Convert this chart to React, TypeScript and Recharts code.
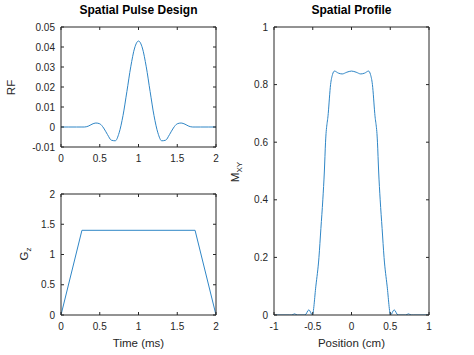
import React from 'react';
import { LineChart, Line, XAxis, YAxis } from 'recharts';

// RF pulse (windowed sinc)
const rfTime = [0, 0.1, 0.2, 0.27, 0.3, 0.35, 0.4, 0.45, 0.5, 0.55, 0.6, 0.65, 0.7, 0.75, 0.8, 0.85, 0.9, 0.95, 1,
  1.05, 1.1, 1.15, 1.2, 1.25, 1.3, 1.35, 1.4, 1.45, 1.5, 1.55, 1.6, 1.65, 1.7, 1.73, 1.8, 1.9, 2];
const rfValue = [0, 0, 0, 0, 0.0000, 0.0004, 0.0014, 0.0020, 0.0016, -0.0005, -0.0038, -0.0066, -0.0069, -0.0029, 0.0057, 0.0177, 0.0301, 0.0395, 0.0430,
  0.0395, 0.0301, 0.0177, 0.0057, -0.0029, -0.0069, -0.0066, -0.0038, -0.0005, 0.0016, 0.0020, 0.0014, 0.0004, 0.0000, 0, 0, 0, 0];

// slice-select gradient
const gzTime = [0, 0.27, 1.73, 2];
const gzValue = [0, 1.4, 1.4, 0];

// spatial profile |Mxy|
const position = [-1, -0.8, -0.77, -0.735, -0.7, -0.6, -0.55, -0.505, -0.46, -0.42, -0.395, -0.37, -0.35, -0.335, -0.3, -0.27, -0.245, -0.22, -0.17, -0.12, -0.06, 0,
  0.06, 0.12, 0.17, 0.22, 0.245, 0.27, 0.3, 0.335, 0.35, 0.37, 0.395, 0.42, 0.46, 0.505, 0.55, 0.6, 0.7, 0.735, 0.77, 0.8, 1];
const mxy = [0, 0, 0, 0.004, 0, 0, 0.018, 0, 0.1, 0.2, 0.3, 0.4, 0.5, 0.6, 0.7, 0.8, 0.835, 0.847, 0.84, 0.837, 0.843, 0.847,
  0.843, 0.837, 0.84, 0.847, 0.835, 0.8, 0.7, 0.6, 0.5, 0.4, 0.3, 0.2, 0.1, 0, 0.018, 0, 0, 0.004, 0, 0, 0];

const timeTicks = [0, 0.5, 1, 1.5, 2];
const rfTicks = [-0.01, 0, 0.01, 0.02, 0.03, 0.04, 0.05];
const gzTicks = [0, 0.5, 1, 1.5, 2];
const posTicks = [-1, -0.5, 0, 0.5, 1];
const mxyTicks = [0, 0.2, 0.4, 0.6, 0.8, 1];

const rfData = rfTime.map((t, i) => ({ t, v: rfValue[i] }));
const gzData = gzTime.map((t, i) => ({ t, v: gzValue[i] }));
const profData = position.map((t, i) => ({ t, v: mxy[i] }));

const AX = '#262626';
const LINE = '#2f86c6';
const FONT = '"Liberation Sans", Arial, sans-serif';
const TICK_LEN = 3;

// matlab-style ticks: short marks pointing into the box, labels outside
const BottomTick = (props: any) => {
  const { x, y, payload } = props;
  return (
    <g>
      <line x1={x} x2={x} y1={y} y2={y - TICK_LEN} stroke={AX} />
      <text x={x} y={y + 14.5} textAnchor="middle" fontSize={10} fill={AX} fontFamily={FONT}>{String(payload.value)}</text>
    </g>
  );
};
const LeftTick = (props: any) => {
  const { x, y, payload } = props;
  return (
    <g>
      <line x1={x} x2={x + TICK_LEN} y1={y} y2={y} stroke={AX} />
      <text x={x - 6} y={y + 3.5} textAnchor="end" fontSize={10} fill={AX} fontFamily={FONT}>{String(payload.value)}</text>
    </g>
  );
};
const TopTick = (props: any) => {
  const { x, y } = props;
  return <line x1={x} x2={x} y1={y} y2={y + TICK_LEN} stroke={AX} />;
};
const RightTick = (props: any) => {
  const { x, y } = props;
  return <line x1={x} x2={x - TICK_LEN} y1={y} y2={y} stroke={AX} />;
};

type PanelProps = {
  data: { t: number; v: number }[];
  width: number;
  height: number;
  margin: { top: number; right: number; left: number; bottom: number };
  yWidth: number;
  xHeight: number;
  xDomain: [number, number];
  xTicks: number[];
  yDomain: [number, number];
  yTicks: number[];
  curve: 'monotone' | 'linear';
};

function Panel(p: PanelProps) {
  return (
    <LineChart width={p.width} height={p.height} data={p.data} margin={p.margin}>
      <XAxis xAxisId="b" dataKey="t" type="number" domain={p.xDomain} ticks={p.xTicks} allowDataOverflow
        height={p.xHeight} tickSize={0} tickMargin={0} tickLine={false} stroke={AX} tick={<BottomTick />} interval={0} />
      <XAxis xAxisId="t" dataKey="t" type="number" orientation="top" domain={p.xDomain} ticks={p.xTicks} allowDataOverflow
        height={1} tickSize={0} tickMargin={0} tickLine={false} stroke={AX} tick={<TopTick />} interval={0} />
      <YAxis yAxisId="l" type="number" domain={p.yDomain} ticks={p.yTicks} allowDataOverflow
        width={p.yWidth} tickSize={0} tickMargin={0} tickLine={false} stroke={AX} tick={<LeftTick />} interval={0} />
      <YAxis yAxisId="r" type="number" orientation="right" domain={p.yDomain} ticks={p.yTicks} allowDataOverflow
        width={1} tickSize={0} tickMargin={0} tickLine={false} stroke={AX} tick={<RightTick />} interval={0} />
      <Line xAxisId="b" yAxisId="l" type={p.curve} dataKey="v" stroke={LINE} strokeWidth={1}
        dot={false} isAnimationActive={false} />
    </LineChart>
  );
}

export default function App() {
  return (
    <div style={{ position: 'absolute', left: 0, top: 0, width: 474, height: 355, background: '#fff', fontFamily: FONT }}>
      <div style={{ position: 'absolute', left: 0, top: 0 }}>
        <Panel data={rfData} width={237} height={175} margin={{ top: 26, right: 20, left: 0, bottom: 0 }}
          yWidth={61} xHeight={28} xDomain={[0, 2]} xTicks={timeTicks} yDomain={[-0.01, 0.05]} yTicks={rfTicks} curve="monotone" />
      </div>
      <div style={{ position: 'absolute', left: 0, top: 175 }}>
        <Panel data={gzData} width={237} height={180} margin={{ top: 18, right: 20, left: 0, bottom: 0 }}
          yWidth={61} xHeight={40} xDomain={[0, 2]} xTicks={timeTicks} yDomain={[0, 2]} yTicks={gzTicks} curve="linear" />
      </div>
      <div style={{ position: 'absolute', left: 237, top: 0 }}>
        <Panel data={profData} width={237} height={355} margin={{ top: 26, right: 44, left: 0, bottom: 0 }}
          yWidth={37} xHeight={40} xDomain={[-1, 1]} xTicks={posTicks} yDomain={[0, 1]} yTicks={mxyTicks} curve="monotone" />
      </div>
      <svg width={474} height={355} style={{ position: 'absolute', left: 0, top: 0, pointerEvents: 'none' }}
        fontFamily={FONT} fill="#000">
        <text x={138.5} y={14} textAnchor="middle" fontSize={12} fontWeight="bold">Spatial Pulse Design</text>
        <text x={351.5} y={14} textAnchor="middle" fontSize={12} fontWeight="bold">Spatial Profile</text>
        <text x={138.5} y={347} textAnchor="middle" fontSize={11.5} fill={AX}>Time (ms)</text>
        <text x={351.5} y={347} textAnchor="middle" fontSize={11.5} fill={AX}>Position (cm)</text>
        <text transform="translate(15,87.5) rotate(-90)" textAnchor="middle" fontSize={11.5} fill={AX}>RF</text>
        <text transform="translate(28,254) rotate(-90)" textAnchor="middle" fontSize={11.5} fill={AX}>
          G<tspan fontSize={8} dy={3}>z</tspan>
        </text>
        <text transform="translate(239,172) rotate(-90)" textAnchor="middle" fontSize={11.5} fill={AX}>
          M<tspan fontSize={8} dy={3}>XY</tspan>
        </text>
      </svg>
    </div>
  );
}
